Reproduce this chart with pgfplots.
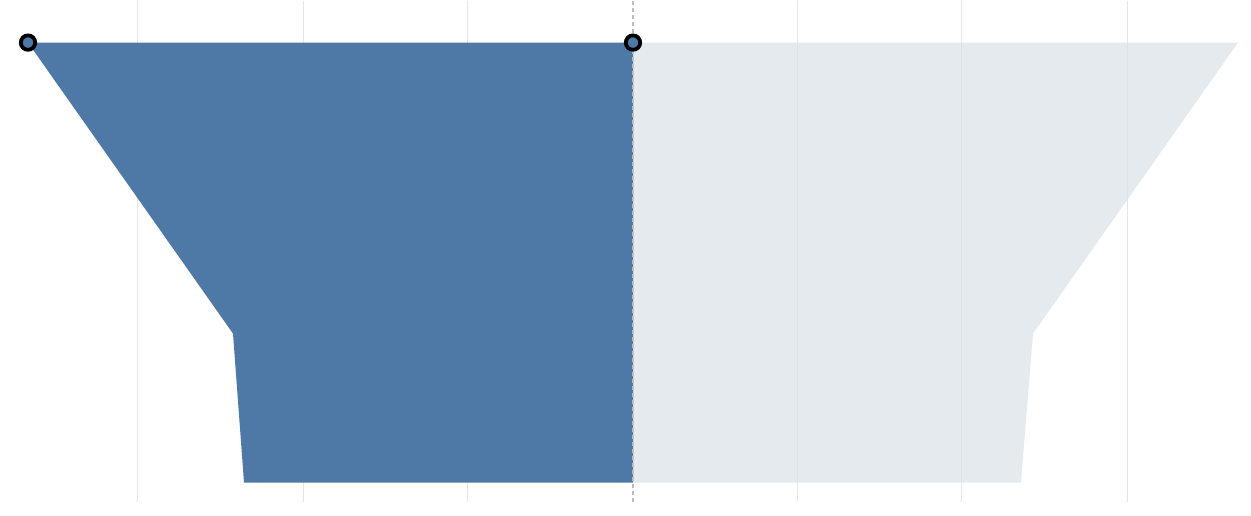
\documentclass[border=0pt]{standalone}
\usepackage{pgfplots}
\pgfplotsset{compat=1.18}
\definecolor{funnelblue}{HTML}{4E79A7}
\definecolor{funnelrest}{HTML}{DAE1E7}
\definecolor{gridgray}{HTML}{E6E6E6}
\definecolor{midgray}{HTML}{BDBDBD}
\begin{document}
\begin{tikzpicture}
\begin{axis}[
    scale only axis,
    width=625.5pt, height=250.5pt,
    xmin=-633, xmax=618,
    ymin=0, ymax=501,
    y dir=reverse,
    axis line style={draw=none},
    tick style={draw=none},
    xtick={-496,-330,-166,164,328,494},
    ytick=\empty,
    xticklabels={},
    xmajorgrids,
    grid style={gridgray, line width=0.5pt},
    clip=false,
]
% remaining share (right half)
\addplot[draw=none, fill=funnelrest, fill opacity=0.7]
    coordinates {(0,42) (605,42) (400,333) (388,482) (0,482)} -- cycle;
% converted share (left half)
\addplot[draw=none, fill=funnelblue]
    coordinates {(0,42) (-605,42) (-400,333) (-389,482) (0,482)} -- cycle;
% centre line
\addplot[midgray, line width=0.6pt, dash pattern=on 2pt off 1.5pt]
    coordinates {(0,0) (0,501)};
% markers
\addplot[only marks, mark=*, mark size=3.6pt,
    mark options={draw=black, fill=funnelblue, line width=1.9pt}]
    coordinates {(-605,42) (0,42)};
\end{axis}
\end{tikzpicture}
\end{document}
